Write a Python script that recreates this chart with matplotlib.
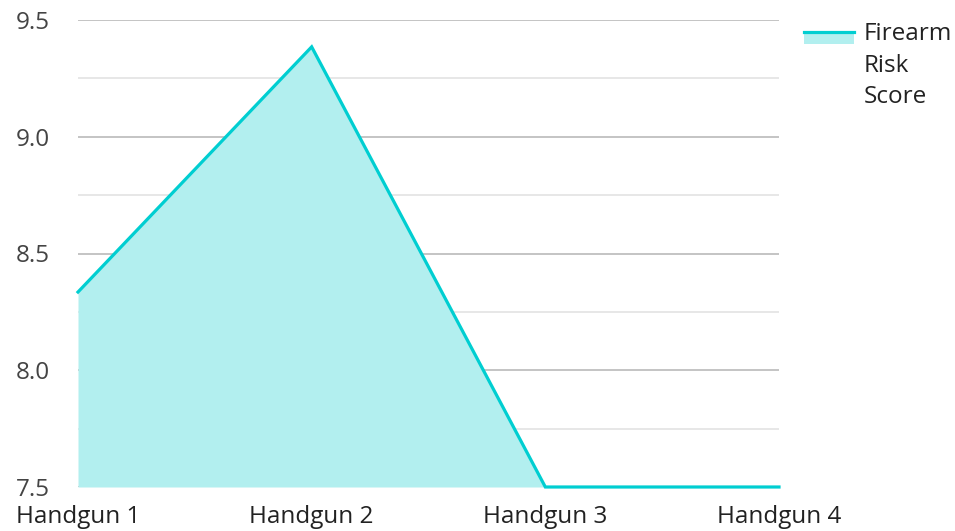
import matplotlib
matplotlib.use("Agg")
import matplotlib.pyplot as plt
from matplotlib.lines import Line2D
from matplotlib.patches import Rectangle
from matplotlib.ticker import MultipleLocator

# Data
categories = ["Handgun 1", "Handgun 2", "Handgun 3", "Handgun 4"]
risk_scores = [8.335, 9.385, 7.5, 7.5]
series_label = "Firearm\nRisk\nScore"

line_color = "#00CED1"
fill_color = "#b2efef"

plt.rcParams["font.family"] = ["Open Sans", "DejaVu Sans"]

W, H = 955, 531
fig = plt.figure(figsize=(W / 100, H / 100), dpi=100)
ax = fig.add_axes([78 / W, 1 - 487 / H, (779 - 78) / W, (487 - 20) / H])

x = list(range(len(categories)))
ax.fill_between(x, risk_scores, 7.5, color=fill_color, lw=0, zorder=3)
ax.plot(x, risk_scores, color=line_color, lw=2.3, zorder=6,
        solid_joinstyle="miter", clip_on=False)

ax.set_xlim(0, len(categories) - 1)
ax.set_ylim(7.5, 9.5)
ax.set_xticks(x)
ax.set_xticklabels(categories)
ax.yaxis.set_major_locator(MultipleLocator(0.5))
ax.yaxis.set_minor_locator(MultipleLocator(0.25))
ax.yaxis.set_major_formatter(matplotlib.ticker.FormatStrFormatter("%.1f"))

ax.grid(axis="y", which="major", color="#b0b0b0", lw=1.4, zorder=5, alpha=0.75)
ax.grid(axis="y", which="minor", color="#cfcfcf", lw=1.4, zorder=5, alpha=0.5)
ax.set_axisbelow(False)
for s in ax.spines.values():
    s.set_visible(False)
ax.tick_params(axis="both", which="both", length=0)
ax.tick_params(axis="y", labelsize=17.5, labelcolor="#444444", pad=20)
ax.tick_params(axis="x", labelsize=17.5, labelcolor="#222222", pad=13)

# legend drawn by hand so the swatch lines up with the first text line
fig.patches.append(Rectangle((804 / W, 1 - 44 / H), 50 / W, 13 / H,
                             transform=fig.transFigure, color=fill_color, lw=0))
fig.lines.append(Line2D([804 / W, 854 / W], [1 - 32 / H, 1 - 32 / H],
                        transform=fig.transFigure, color=line_color, lw=2.3))
fig.text(864 / W, 1 - 22 / H, series_label, fontsize=17.5, color="#222222",
         va="top", ha="left", linespacing=1.42)

fig.savefig("out.png", dpi=100)
